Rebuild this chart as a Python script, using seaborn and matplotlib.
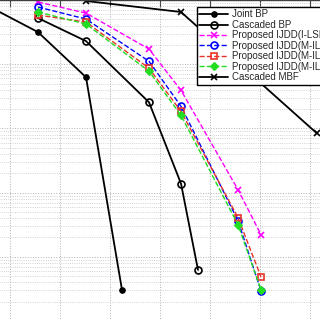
import numpy as np
import pandas as pd
import matplotlib
matplotlib.use("Agg")
import matplotlib.pyplot as plt
import seaborn as sns

# ---- data (x in axis units, y = BER) ----
joint_bp_x = [-0.4, 0.56, 1.52, 2.24]
joint_bp_y = [0.78, 0.316, 0.0627, 3.05e-5]

casc_bp_x = [0.56, 1.52, 2.78, 3.42, 3.76]
casc_bp_y = [0.523, 0.229, 0.0255, 1.38e-3, 6.26e-5]

prop_x = [0.56, 1.52, 2.78, 3.42, 4.56, 5.02]
ilsi_y = [0.93, 0.626, 0.172, 0.0392, 1.11e-3, 2.21e-4]
milsi1_y = [0.777, 0.505, 0.111, 0.0221, 3.65e-4, 2.94e-5]
milsi2_y = [0.583, 0.453, 0.0866, 0.0184, 4.07e-4, 4.87e-5]
milsi3_y = [0.65, 0.422, 0.0778, 0.0160, 3.16e-4, 3.05e-5]

mbf_x = [1.52, 3.42, 6.14]
mbf_y = [0.965, 0.65, 8.35e-3]

labels = ["Joint BP", "Cascaded BP", "Proposed IJDD(I-LSI)",
          "Proposed IJDD(M-ILSI)", "Proposed IJDD(M-ILSI)",
          "Proposed IJDD(M-ILSI)", "Cascaded MBF"]
x_ticks = [0, 1, 2, 3, 4, 5, 6]

sns.set_style("white")
plt.rcParams['font.family'] = ['Liberation Sans', 'DejaVu Sans']

fig = plt.figure(figsize=(3.2, 3.2), dpi=100)
W = H = 320.0
# axes: x pixel = 10 + 50*t ; top at pixel 0, bottom at pixel 321
xl, xr = -0.5, 6.5
left_px = 10 + 50 * xl
right_px = 10 + 50 * xr
top_px, bot_px = 0.0, 321.0
ax = fig.add_axes([left_px / W, (H - bot_px) / H,
                   (right_px - left_px) / W, (bot_px - top_px) / H])

MAG, BLU, RED, GRN = '#ff00ff', '#0000ff', '#e8332a', '#22dd22'
series = [
    (joint_bp_x, joint_bp_y, dict(color='black', linestyle='-', marker='o', markersize=4,
                                  markerfacecolor='black', markeredgecolor='black', linewidth=1.3)),
    (casc_bp_x, casc_bp_y, dict(color='black', linestyle='-', marker='o', markersize=5,
                                markerfacecolor='none', markeredgecolor='black', markeredgewidth=1.2,
                                linewidth=1.3)),
    (prop_x, ilsi_y, dict(color=MAG, linestyle='--', marker='x', markersize=5,
                          markeredgecolor=MAG, markeredgewidth=1.2, linewidth=1.0)),
    (prop_x, milsi1_y, dict(color=BLU, linestyle='--', marker='o', markersize=5,
                            markerfacecolor='none', markeredgecolor=BLU, markeredgewidth=1.2,
                            linewidth=1.0)),
    (prop_x, milsi2_y, dict(color=RED, linestyle='--', marker='s', markersize=5,
                            markerfacecolor='none', markeredgecolor=RED, markeredgewidth=1.2,
                            linewidth=1.0)),
    (prop_x, milsi3_y, dict(color=GRN, linestyle='--', marker='D', markersize=4.5,
                            markerfacecolor=GRN, markeredgecolor=GRN, markeredgewidth=0.8,
                            linewidth=1.0)),
    (mbf_x, mbf_y, dict(color='black', linestyle='-', marker='x', markersize=4,
                        markeredgecolor='black', markeredgewidth=1.2, linewidth=1.3)),
]

for (xs, ys, kw), lab in zip(series, labels):
    df = pd.DataFrame({"x": xs, "y": ys})
    sns.lineplot(data=df, x="x", y="y", ax=ax, sort=False, label=lab, **kw)

ax.set_yscale('log')
ax.set_xlim(xl, xr)
ax.set_ylim(1e-5, 1)
ax.set_xticks(x_ticks)
ax.set_xlabel("")
ax.set_ylabel("")
ax.tick_params(which='both', direction='in', top=True, right=True,
               labelbottom=False, labelleft=False, color='#404040')
ax.tick_params(which='major', length=5)
ax.tick_params(which='minor', length=3)
ax.grid(True, which='major', linestyle=':', color='#b0b0b0', linewidth=0.7)
ax.grid(True, which='minor', axis='y', linestyle=':', color='#c4c4c4', linewidth=0.6)
for s in ax.spines.values():
    s.set_color('#404040')
    s.set_linewidth(1.0)

leg = ax.legend(loc='upper left', bbox_to_anchor=(197 / W, 1 - 7 / H),
                bbox_transform=fig.transFigure, fontsize=7, frameon=True,
                fancybox=False, framealpha=1, edgecolor='black',
                handlelength=2.9, handletextpad=0.4, labelspacing=0.05,
                borderpad=0.25, borderaxespad=0)
leg.get_frame().set_linewidth(1.0)

fig.savefig("out.png", dpi=100)
